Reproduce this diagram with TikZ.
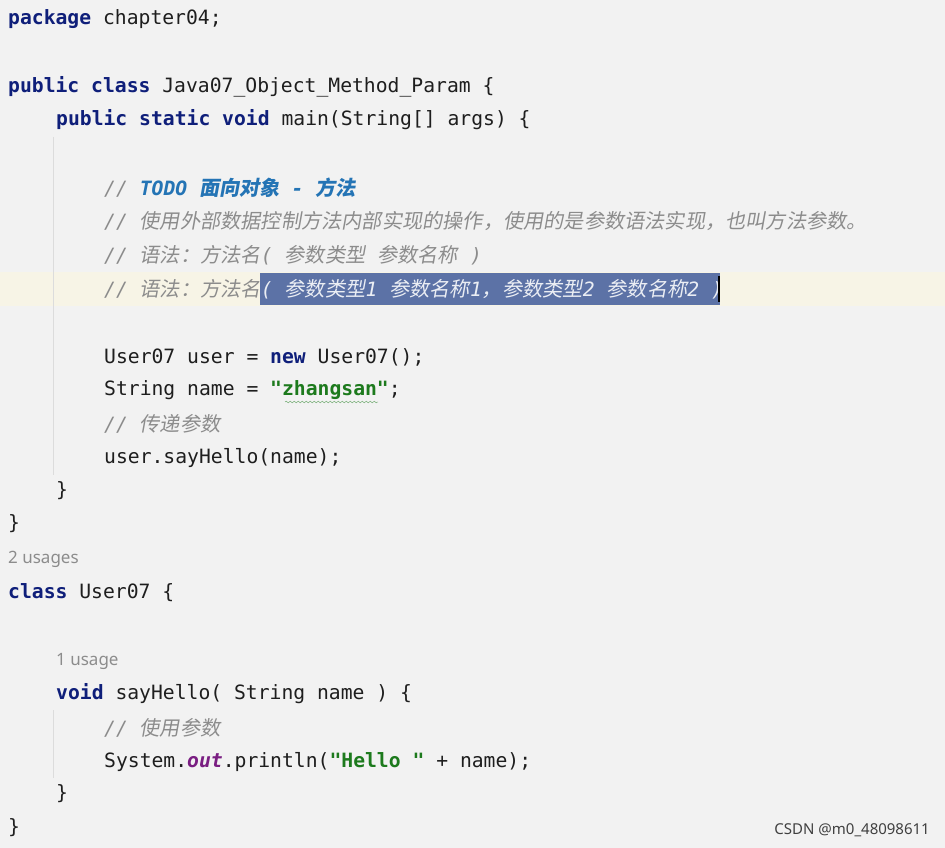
\documentclass[tikz,border=0pt]{standalone}
\usepackage{fontspec}
\usetikzlibrary{decorations.pathmorphing}
\setmonofont{DejaVu Sans Mono}
\newfontfamily\cjk[FakeSlant=0.18]{Noto Sans CJK SC}
\newfontfamily\uisans{Noto Sans}
\definecolor{bg}{HTML}{F2F2F2}
\definecolor{kwc}{HTML}{0F1F7A}
\definecolor{cmc}{HTML}{8C8C8C}
\definecolor{todoc}{HTML}{2474B5}
\definecolor{strc}{HTML}{1D7A1D}
\definecolor{outc}{HTML}{7A1E82}
\definecolor{txt}{HTML}{1E1E1E}
\definecolor{hl}{HTML}{5C72A6}
\definecolor{curl}{HTML}{F7F4E6}
\definecolor{guide}{HTML}{DCDCDC}
\newcommand{\kw}[1]{{\color{kwc}\bfseries #1}}
\newcommand{\cm}[1]{{\color{cmc}\itshape #1}}
\newcommand{\zh}[1]{{\cjk\fontsize{20.2}{24}\selectfont #1}}
\newcommand{\str}[1]{{\color{strc}\bfseries #1}}
\tikzset{code/.style={anchor=west,inner sep=0pt,text=txt,font=\ttfamily\fontsize{19.7}{24}\selectfont},
  ui/.style={anchor=west,inner sep=0pt,text=cmc,font=\uisans\fontsize{17}{20}\selectfont}}
\begin{document}
\begin{tikzpicture}[x=1pt,y=-1pt]
\fill[bg] (0,0) rectangle (945,848);
\useasboundingbox (0,0) rectangle (945,848);
\fill[curl] (0,272) rectangle (945,306);
\fill[hl] (260,273) rectangle (720,305);
\draw[guide,line width=1pt] (53,137) -- (53,475);
\draw[guide,line width=1pt] (53,710) -- (53,778);
\node[code] (l1) at (8,19) {\kw{package} chapter04;};
\node[code] (l2) at (8,87) {\kw{public class} Java07\_Object\_Method\_Param \{};
\node[code] (l3) at (56,120) {\kw{public static void} main(String[] args) \{};
\node[code] (l4) at (104,188) {\cm{//} {\color{todoc}\bfseries\itshape TODO \zh{面向对象} - \zh{方法}}};
\node[code] (l5) at (104,221) {\cm{// \zh{使用外部数据控制方法内部实现的操作，使用的是参数语法实现，也叫方法参数。}}};
\node[code] (l6) at (104,255) {\cm{// \zh{语法：方法名}( \zh{参数类型} \zh{参数名称} )}};
\node[code] (l7) at (104,289) {\cm{// \zh{语法：方法名}}{\color{white!88!hl}\itshape ( \zh{参数类型}1 \zh{参数名称}1\zh{，参数类型}2 \zh{参数名称}2 )}};
\draw[black,line width=1.5pt] (719,276) -- (719,302);
\node[code] (l8) at (104,357) {User07 user = \kw{new} User07();};
\node[code] (l9) at (104,390) {String name = \str{"zhangsan"};};
\draw[strc!70,decorate,decoration={snake,amplitude=0.8pt,segment length=4pt}] (285,402) -- (378,402);
\node[code] (l10) at (104,424) {\cm{// \zh{传递参数}}};
\node[code] (l11) at (104,458) {user.sayHello(name);};
\node[code] (l12) at (56,491) {\}};
\node[code] (l13) at (8,524) {\}};
\node[ui] (u1) at (8,559) {2 usages};
\node[code] (l14) at (8,593) {\kw{class} User07 \{};
\node[ui] (u2) at (56,661) {1 usage};
\node[code] (l15) at (56,694) {\kw{void} sayHello( String name ) \{};
\node[code] (l16) at (104,728) {\cm{// \zh{使用参数}}};
\node[code] (l17) at (104,762) {System.{\color{outc}\bfseries\itshape out}.println(\str{"Hello "} + name);};
\node[code] (l18) at (56,794) {\}};
\node[code] (l19) at (8,828) {\}};
\node[anchor=east,inner sep=0pt,text=black!75,font=\uisans\fontsize{15}{18}\selectfont] (wm) at (930,830) {CSDN @m0\_48098611};
\end{tikzpicture}
\end{document}
